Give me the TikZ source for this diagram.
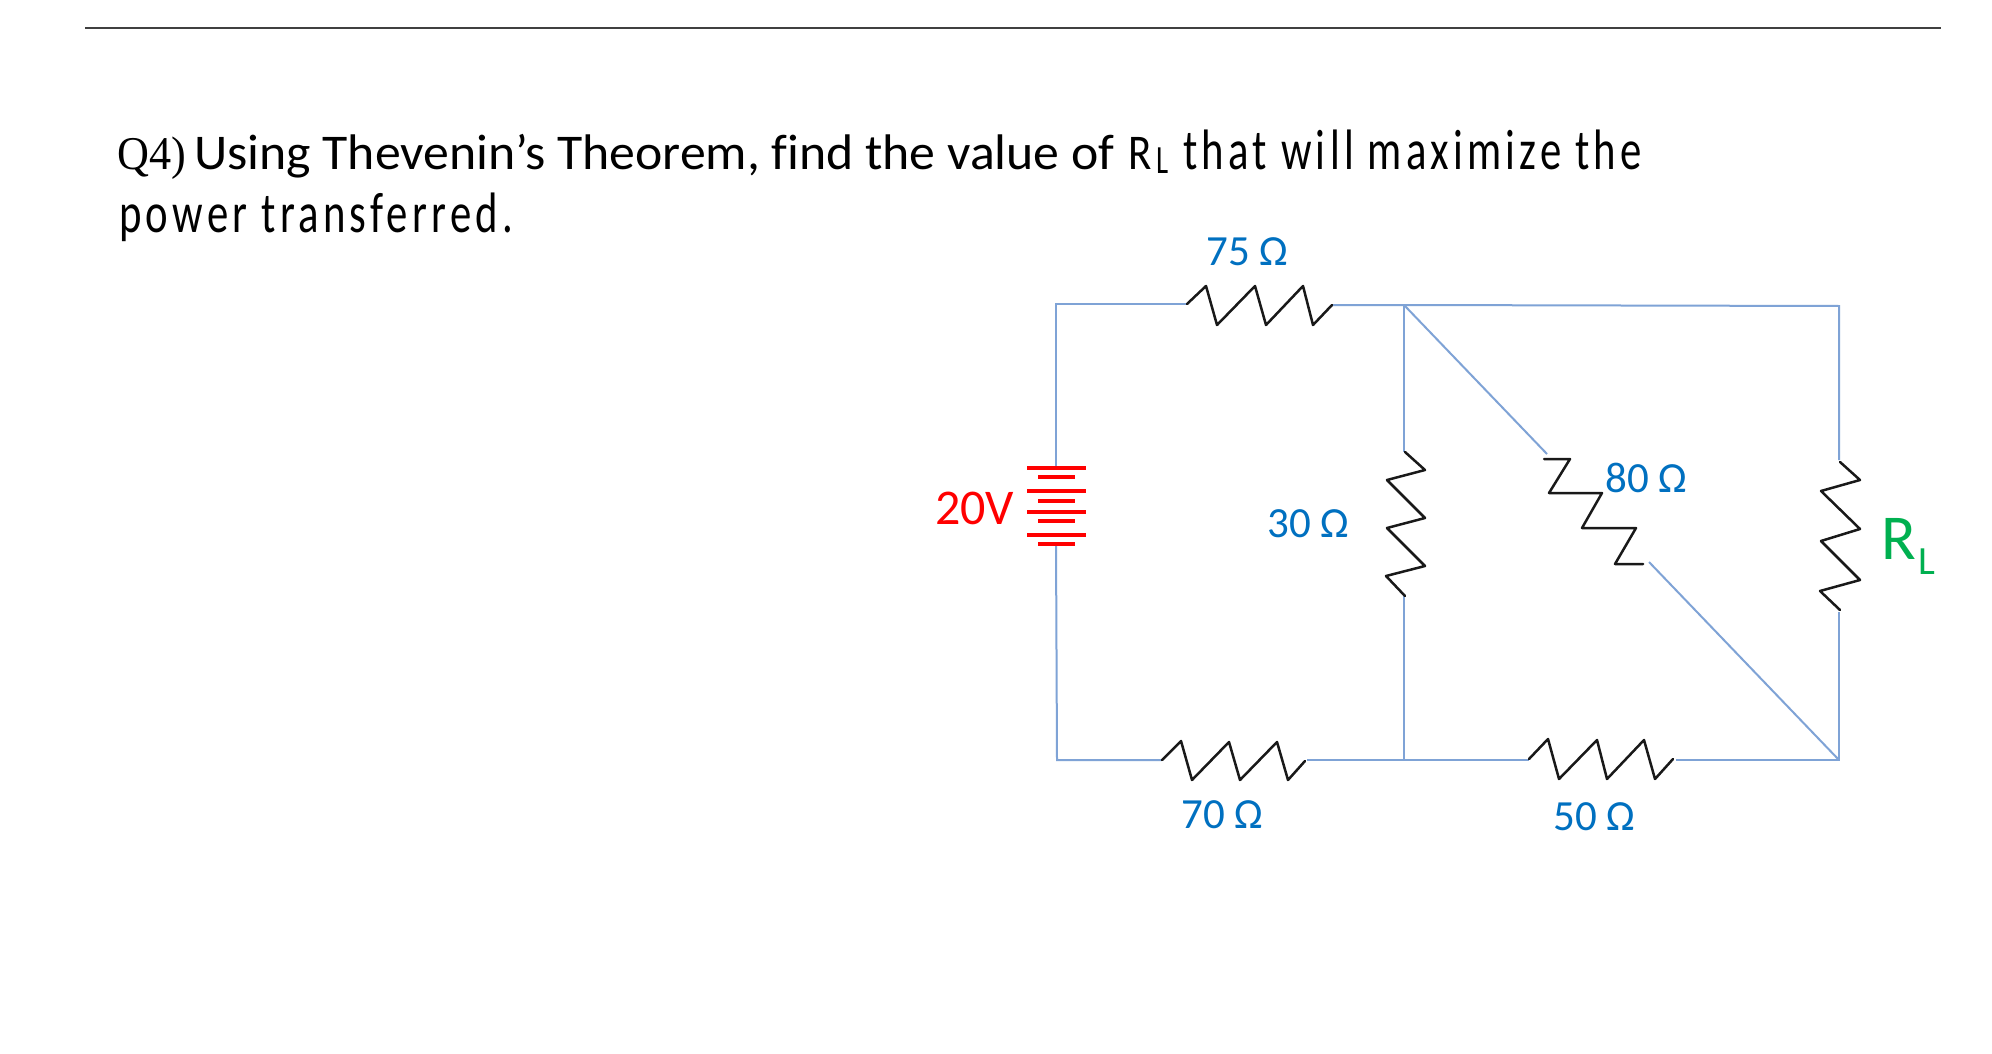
\documentclass[tikz,border=0pt]{standalone}
\usepackage{fontspec}
\setmainfont{Carlito}
\newfontfamily\serifq{Liberation Serif}
\newfontfamily\bodyf[Ligatures=NoCommon]{Carlito}
\newfontfamily\tallf[Ligatures=NoCommon,LetterSpace=10]{Carlito}
\definecolor{wireblue}{HTML}{7FA3D6}
\definecolor{labelblue}{HTML}{0070C0}
\definecolor{srcred}{HTML}{FF0000}
\definecolor{loadgreen}{HTML}{00B050}
\tikzset{
  wire/.style={draw=wireblue,line width=2pt,line join=miter},
  zig/.style={draw=black!90,line width=2.5pt,line join=round,line cap=round},
  plate/.style={draw=srcred,line width=3.4pt},
  txt/.style={inner sep=0pt,anchor=base west},
  rlabel/.style={txt,text=labelblue,font=\fontsize{43}{50}\selectfont},
  tallt/.style={txt,font=\tallf\fontsize{57}{60}\selectfont},
}
\begin{document}
\begin{tikzpicture}[x=1pt,y=-1pt]
\useasboundingbox (0,0) rectangle (1992,1054);
\fill[white] (0,0) rectangle (1992,1054);
\coordinate (ruleL) at (85,28);
\coordinate (ruleR) at (1941,28);
\draw[draw=black!75,line width=2pt] (ruleL) -- (ruleR);

\node[txt,font=\serifq\fontsize{47}{50}\selectfont] (q) at (117,169) {\scalebox{0.94}[1]{Q4)}};
\node[txt,font=\bodyf\fontsize{50}{60}\selectfont] (l1a) at (194,169) {\scalebox{1.035}[1]{Using Thevenin’s Theorem, find the value of}};
\node[txt,font=\bodyf\fontsize{50}{60}\selectfont] (l1R) at (1128,169) {\scalebox{0.86}[1]{R}};
\node[txt,font=\bodyf\fontsize{40}{48}\selectfont] (l1b) at (1156,173) {\scalebox{0.72}[1]{L}};
\node[tallt] (l1c) at (1183,169) {\scalebox{0.75}[1]{that will maximize the}};
\node[tallt] (l2) at (119,232) {\scalebox{0.75}[1]{power transferred.}};

% junctions
\coordinate (tl) at (1056,304);
\coordinate (tm) at (1404,305);
\coordinate (tr) at (1839,306);
\coordinate (bl) at (1057,760);
\coordinate (bm) at (1404,760);
\coordinate (br) at (1839,760);
\coordinate (batT) at (1056,468);
\coordinate (batB) at (1056,544);
\coordinate (r75a) at (1187,304);
\coordinate (r75b) at (1332,305);
\coordinate (r30a) at (1404,452);
\coordinate (r30b) at (1404,596);
\coordinate (r80a) at (1547,454);
\coordinate (r80b) at (1649,562);
\coordinate (rLa) at (1839,460);
\coordinate (rLb) at (1839,612);
\coordinate (r70a) at (1162,760);
\coordinate (r70b) at (1307,760);
\coordinate (r50a) at (1529,760);
\coordinate (r50b) at (1676,760);

\draw[wire] (batT) -- (tl) -- (r75a);
\draw[wire] (r75b) -- (tm) -- (tr) -- (rLa);
\draw[wire] (tm) -- (r30a);
\draw[wire] (tm) -- (r80a);
\draw[wire] (r30b) -- (bm);
\draw[wire] (r80b) -- (br);
\draw[wire] (rLb) -- (br) -- (r50b);
\draw[wire] (batB) -- (bl) -- (r70a);
\draw[wire] (r70b) -- (r50a);

% resistors
\draw[zig] (1187,304) -- (1206,286) -- (1217,325) -- (1255,286) -- (1266,325) -- (1303,286) -- (1313,325) -- (1332,305);
\draw[zig] (1405,452) -- (1425,470) -- (1387,480) -- (1425,518) -- (1387,528) -- (1425,566) -- (1386,576) -- (1405,596);
\draw[zig] (1544,459) -- (1570,459) -- (1549,493) -- (1602,493) -- (1582,528) -- (1636,528) -- (1615,564) -- (1643,564);
\draw[zig] (1840,462) -- (1860,480) -- (1821,491) -- (1860,529) -- (1821,541) -- (1860,580) -- (1820,591) -- (1840,610);
\draw[zig] (1162,760) -- (1181,741) -- (1192,780) -- (1229,742) -- (1240,780) -- (1277,742) -- (1288,780) -- (1305,761);
\draw[zig] (1529,759) -- (1548,739) -- (1559,779) -- (1597,740) -- (1607,779) -- (1644,740) -- (1655,779) -- (1673,759);

% battery
\foreach \yy in {468,491,512,535} \draw[plate] (1027,\yy) -- (1086,\yy);
\foreach \yy in {477,501,521,544} \draw[plate] (1038,\yy) -- (1075,\yy);

\node[rlabel] (t75) at (1206,265) {75 Ω};
\node[rlabel] (t30) at (1267,537) {30 Ω};
\node[rlabel] (t80) at (1605,492) {80 Ω};
\node[rlabel] (t70) at (1181,828) {70 Ω};
\node[rlabel] (t50) at (1553,830) {50 Ω};
\node[txt,text=srcred,font=\fontsize{50}{56}\selectfont] (t20) at (935,524) {20V};
\node[txt,text=loadgreen,font=\fontsize{64}{70}\selectfont] (tR) at (1881,559) {R};
\node[txt,text=loadgreen,font=\fontsize{40}{48}\selectfont] (tL) at (1918,574) {L};
\end{tikzpicture}
\end{document}
